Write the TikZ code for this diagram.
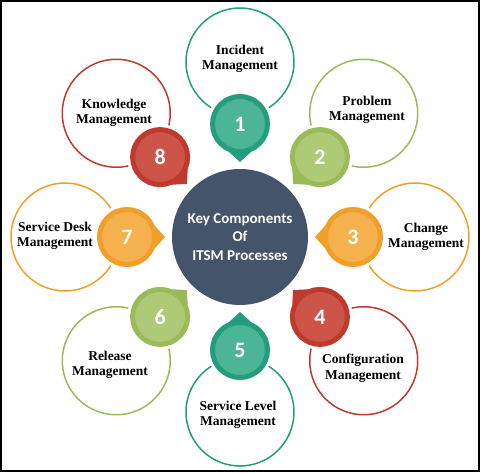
\documentclass[tikz,border=0pt]{standalone}
\usepackage{fontspec}
\setmainfont{Liberation Serif}
\newfontfamily\calfont{Carlito}
\usepackage{tikz}
\usetikzlibrary{positioning,calc}

\definecolor{hubblue}{RGB}{68,84,106}
\definecolor{tealdk}{RGB}{36,157,124}
\definecolor{teallt}{RGB}{76,181,150}
\definecolor{grndk}{RGB}{155,187,89}
\definecolor{grnlt}{RGB}{174,202,118}
\definecolor{orgdk}{RGB}{240,160,42}
\definecolor{orglt}{RGB}{244,177,78}
\definecolor{reddk}{RGB}{192,57,45}
\definecolor{redlt}{RGB}{205,84,72}

\begin{document}
\begin{tikzpicture}[
    x=1pt,y=1pt,
    hub/.style={circle,fill=hubblue,minimum size=136pt,inner sep=0pt,text=white,
                font=\calfont\bfseries\fontsize{15}{18.5}\selectfont,align=center},
    ring/.style={circle,draw=#1,line width=1.5pt,minimum size=108pt,inner sep=0pt},
    badge/.style={circle,draw=#1dk,fill=#1lt,line width=5pt,minimum size=55pt,inner sep=0pt,
                  text=white,font=\calfont\bfseries\fontsize{22}{22}\selectfont,
                  preaction={draw=white,line width=11pt}},
    itemtext/.style={font=\bfseries\fontsize{13.5}{15.5}\selectfont,align=center}
]
\useasboundingbox (-240,237) rectangle (240,-235);
\draw[line width=2pt] (-239,236) rectangle (239,-234);

% outer rings and their texts
\node[ring=tealdk] (r1) at (90:175)   {};
\node[ring=grndk]  (r2) at (45:175)   {};
\node[ring=orgdk]  (r3) at (0:175)    {};
\node[ring=reddk]  (r4) at (-45:175)  {};
\node[ring=tealdk] (r5) at (-90:175)  {};
\node[ring=grndk]  (r6) at (-135:175) {};
\node[ring=orgdk]  (r7) at (180:175)  {};
\node[ring=reddk]  (r8) at (135:175)  {};

\node[itemtext] (l1) at (0,178)     {Incident\\Management};
\node[itemtext] (l2) at (127,127)   {Problem\\Management};
\node[itemtext] (l3) at (186,0)     {Change\\Management};
\node[itemtext] (l4) at (123,-131)  {Configuration\\Management};
\node[itemtext] (l5) at (-2,-178)   {Service Level\\Management};
\node[itemtext] (l6) at (-130,-128) {Release\\Management};
\node[itemtext] (l7) at (-185,1)    {Service Desk\\Management};
\node[itemtext] (l8) at (-126,124)  {Knowledge\\Management};

% centre
\node[hub] (hub) at (0,0) {Key Components\\Of\\ITSM Processes};

% numbered badges
\node[badge=teal] (n1) at (90:113)   {1};
\node[badge=grn]  (n2) at (45:113)   {2};
\node[badge=org]  (n3) at (0:113)    {3};
\node[badge=red]  (n4) at (-45:113)  {4};
\node[badge=teal] (n5) at (-90:113)  {5};
\node[badge=grn]  (n6) at (-135:113) {6};
\node[badge=org]  (n7) at (180:113)  {7};
\node[badge=red]  (n8) at (135:113)  {8};

\coordinate (t1) at (90:75);
\coordinate (t2) at (45:75);
\coordinate (t3) at (0:75);
\coordinate (t4) at (-45:75);
\coordinate (t5) at (-90:75);
\coordinate (t6) at (-135:75);
\coordinate (t7) at (180:75);
\coordinate (t8) at (135:75);

\fill[tealdk] (n1.248) -- (t1) -- (n1.292) -- cycle;
\fill[grndk]  (n2.203) -- (t2) -- (n2.247) -- cycle;
\fill[orgdk]  (n3.158) -- (t3) -- (n3.202) -- cycle;
\fill[reddk]  (n4.113) -- (t4) -- (n4.157) -- cycle;
\fill[tealdk] (n5.68)  -- (t5) -- (n5.112) -- cycle;
\fill[grndk]  (n6.23)  -- (t6) -- (n6.67)  -- cycle;
\fill[orgdk]  (n7.338) -- (t7) -- (n7.22)  -- cycle;
\fill[reddk]  (n8.293) -- (t8) -- (n8.337) -- cycle;
\end{tikzpicture}
\end{document}
